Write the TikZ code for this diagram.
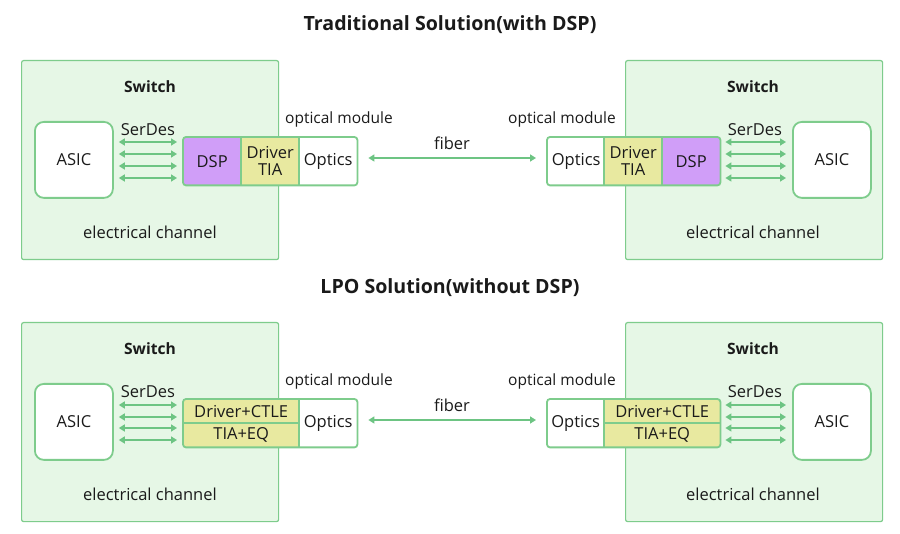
\documentclass[tikz,border=0pt]{standalone}
\usepackage{fontspec}
\setmainfont{Open Sans}
\usetikzlibrary{arrows.meta,calc}
\definecolor{gfill}{HTML}{E6F7E6}
\definecolor{gline}{HTML}{7ECC8C}
\definecolor{garr}{HTML}{6DC483}
\definecolor{dspc}{HTML}{D09EF8}
\definecolor{drvc}{HTML}{E8E9A0}
\definecolor{txt}{HTML}{1A1A1A}
\tikzset{
  sw/.style={draw=gline, fill=gfill, line width=1.2pt, rounded corners=2pt,
    minimum width=257pt, minimum height=199pt, anchor=north west, inner sep=0pt},
  asic/.style={draw=gline, fill=white, line width=1.8pt, rounded corners=9pt,
    minimum width=78pt, minimum height=76pt, anchor=north west, inner sep=0pt,
    font=\fontsize{16.5}{17}\selectfont, text=txt},
  cell/.style={minimum width=58pt, minimum height=48pt, anchor=north west, inner sep=0pt,
    align=center, font=\fontsize{16.5}{17}\selectfont, text=txt},
  wcell/.style={cell, minimum width=116pt, minimum height=24pt},
  outline/.style={draw=gline, line width=1.8pt, rounded corners=3pt},
  divline/.style={draw=gline, line width=1.8pt},
  lbl/.style={font=\fontsize{16.5}{18}\selectfont, text=txt, inner sep=0pt},
  omlbl/.style={font=\fontsize{15.5}{18}\selectfont, text=txt, inner sep=0pt},
  blbl/.style={font=\bfseries\fontsize{15.6}{18}\selectfont, text=txt, inner sep=0pt},
  ttl/.style={font=\bfseries\fontsize{19.6}{22}\selectfont, text=txt, inner sep=0pt},
  ser/.style={draw=garr, line width=1.6pt, {Triangle[length=6pt,width=7pt]}-{Triangle[length=6pt,width=7pt]},
    shorten <=5pt, shorten >=6pt},
  fib/.style={draw=garr, line width=1.6pt, {Triangle[length=6pt,width=7pt]}-{Triangle[length=6pt,width=7pt]},
    shorten <=11pt, shorten >=11pt},
}
\begin{document}
\begin{tikzpicture}[x=1pt,y=-1pt]
\useasboundingbox (0,0) rectangle (900,534);
\fill[white] (0,0) rectangle (900,534);

% ---------- Titles
\node[ttl] (t1) at (450,25) {Traditional Solution(with DSP)};
\node[ttl] (t2) at (450,288) {LPO Solution(without DSP)};

% ---------- Top row: switches
\node[sw] (swTL) at (21,60) {};
\node[sw] (swTR) at (625,60) {};
\node[blbl] (swlTL) at (150,87) {Switch};
\node[blbl] (swlTR) at (753,87) {Switch};
\node[asic] (asicTL) at (34,121) {ASIC};
\node[asic] (asicTR) at (792,121) {ASIC};
\node[lbl] (sdTL) at (148,130) {SerDes};
\node[lbl] (sdTR) at (755,130) {SerDes};
\node[lbl] (ecTL) at (150,232) {electrical channel};
\node[lbl] (ecTR) at (753,232) {electrical channel};
\node[omlbl] (omTL) at (339,119) {optical module};
\node[omlbl] (omTR) at (562,119) {optical module};

% left module top
\node[cell, fill=dspc] (dspTL) at (183,137) {DSP};
\node[cell, fill=drvc] (drvTL) at (241,137) {Driver\\TIA};
\node[cell, fill=white] (optTL) at (299,137) {Optics};
\draw[outline] (dspTL.north west) rectangle (optTL.south east);
\draw[divline] (drvTL.north west) -- (drvTL.south west);
\draw[divline] (optTL.north west) -- (optTL.south west);

% right module top
\node[cell, fill=white] (optTR) at (547,137) {Optics};
\node[cell, fill=drvc] (drvTR) at (604,137) {Driver\\TIA};
\node[cell, fill=dspc] (dspTR) at (662,137) {DSP};
\draw[outline] (optTR.north west) rectangle (dspTR.south east);
\draw[divline] (drvTR.north west) -- (drvTR.south west);
\draw[divline] (dspTR.north west) -- (dspTR.south west);

% serdes arrows top
\foreach \yy in {142,154,166,178}{
  \draw[ser] (asicTL.east |- 0,\yy) -- (dspTL.west |- 0,\yy);
  \draw[ser] (dspTR.east |- 0,\yy) -- (asicTR.west |- 0,\yy);
}
% fiber top
\node[lbl] (fibT) at (452,143) {fiber};
\draw[fib] (optTL.east |- 0,158) -- (optTR.west |- 0,158);

% ---------- Bottom row
\node[sw] (swBL) at (21,322) {};
\node[sw] (swBR) at (625,322) {};
\node[blbl] (swlBL) at (150,349) {Switch};
\node[blbl] (swlBR) at (753,349) {Switch};
\node[asic] (asicBL) at (34,383) {ASIC};
\node[asic] (asicBR) at (792,383) {ASIC};
\node[lbl] (sdBL) at (148,392) {SerDes};
\node[lbl] (sdBR) at (755,392) {SerDes};
\node[lbl] (ecBL) at (150,494) {electrical channel};
\node[lbl] (ecBR) at (753,494) {electrical channel};
\node[omlbl] (omBL) at (339,381) {optical module};
\node[omlbl] (omBR) at (562,381) {optical module};

% left module bottom
\node[wcell, fill=drvc] (ctBL) at (183,399) {Driver+CTLE};
\node[wcell, fill=drvc] (eqBL) at (183,423) {TIA+EQ};
\node[cell, fill=white] (optBL) at (299,399) {Optics};
\draw[outline] (ctBL.north west) rectangle (optBL.south east);
\draw[divline] (optBL.north west) -- (optBL.south west);
\draw[divline] (eqBL.north west) -- (eqBL.north east);

% right module bottom
\node[cell, fill=white, minimum width=57pt] (optBR) at (547,399) {Optics};
\node[wcell, fill=drvc] (ctBR) at (604,399) {Driver+CTLE};
\node[wcell, fill=drvc] (eqBR) at (604,423) {TIA+EQ};
\draw[outline] (optBR.north west) rectangle (eqBR.south east);
\draw[divline] (ctBR.north west) -- (eqBR.south west);
\draw[divline] (eqBR.north west) -- (eqBR.north east);

\foreach \yy in {405,417,428,440}{
  \draw[ser] (asicBL.east |- 0,\yy) -- (ctBL.west |- 0,\yy);
  \draw[ser] (ctBR.east |- 0,\yy) -- (asicBR.west |- 0,\yy);
}
\node[lbl] (fibB) at (452,405) {fiber};
\draw[fib] (optBL.east |- 0,420) -- (optBR.west |- 0,420);
\end{tikzpicture}
\end{document}
